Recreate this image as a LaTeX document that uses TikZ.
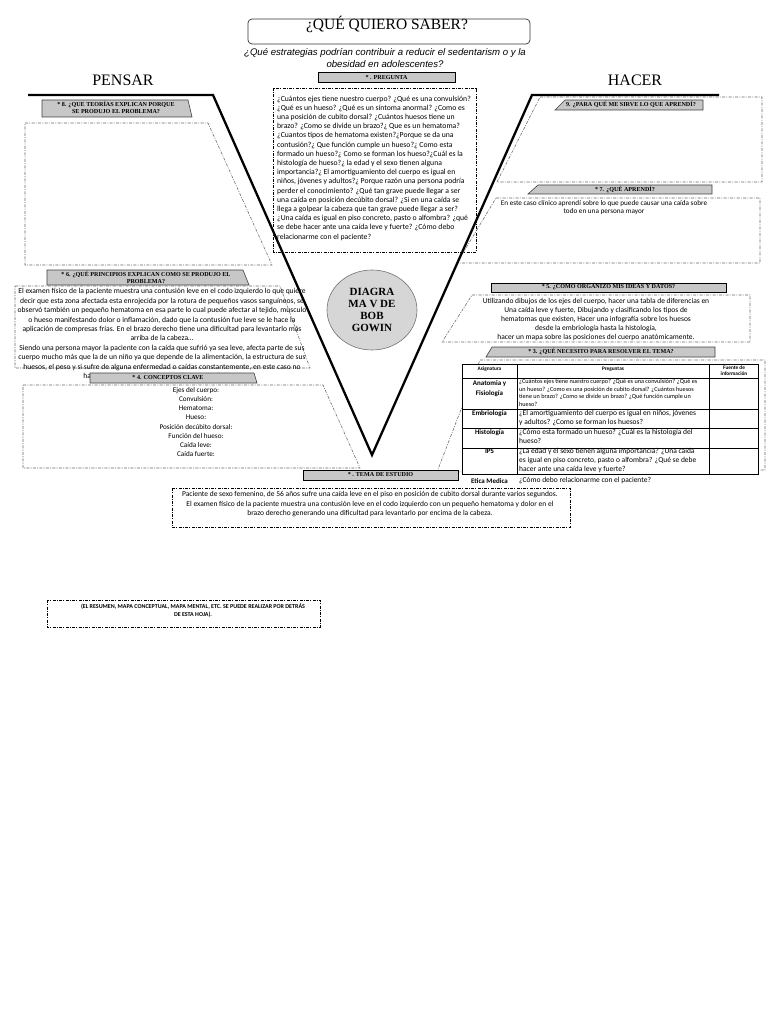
\documentclass[tikz,border=0pt]{standalone}
\usepackage{fontspec}
\setmainfont{Carlito}
\newfontfamily\tnr{Liberation Serif}
\newfontfamily\arl{Liberation Sans}
\newcommand\fz[2]{\fontsize{#1}{#2}\selectfont}
\tikzset{
 vl/.style={line width=2.3pt, line join=miter},
 dd/.style={draw=black!60, line width=0.55pt, dash pattern=on 3pt off 1.3pt on 0.9pt off 1.3pt},
 ddk/.style={draw=black, line width=0.9pt, dash pattern=on 3pt off 1.3pt on 0.9pt off 1.3pt},
 hdr/.style={fill=black!22, draw=black!75, line width=0.6pt},
 hdrk/.style={fill=black!22, draw=black, line width=1pt},
 ht/.style={font=\tnr\bfseries\fz{6.1}{6.4}, inner sep=0pt, align=center},
 bt/.style={font=\fz{7.3}{9.4}, inner sep=0pt, align=center},
 tb/.style={line width=0.9pt, draw=black},
 c1/.style={font=\bfseries\fz{7}{10}, inner sep=0pt, align=center},
}
\begin{document}
\begin{tikzpicture}[x=1pt,y=-1pt]
\useasboundingbox (0,0) rectangle (768,1024);
\fill[white] (0,0) rectangle (768,1024);

% title
\draw[rounded corners=4pt, line width=0.7pt, draw=black!80] (248,19) rectangle (530,44);
\node[inner sep=0pt, anchor=base, font=\tnr\fz{15.5}{16}] (title) at (387,29.5) {¿QUÉ QUIERO SABER?};
\node[inner sep=0pt, align=center, font=\arl\itshape\fz{9.6}{12}] (sub) at (385,58) {¿Qué estrategias podrían contribuir a reducir el sedentarism o y la\\obesidad en adolescentes?};
\node[inner sep=0pt, font=\tnr\fz{16}{16}] (pensar) at (123,80) {PENSAR};
\node[inner sep=0pt, font=\tnr\fz{16}{16}] (hacer) at (635,80) {HACER};

% PREGUNTA
\draw[hdrk] (318,73) rectangle (455,83);
\node[ht] (hpreg) at (386.5,78) {* . PREGUNTA};
\draw[ddk] (273,88) rectangle (476,252);
\node[anchor=north west, inner sep=0pt, align=left, font=\fz{7.7}{9.2}] (preg) at (277,95.5) {¿Cuántos ejes tiene nuestro cuerpo? ¿Qué es una convulsión?\\¿Qué es un hueso? ¿Qué es un síntoma anormal? ¿Como es\\una posición de cubito dorsal? ¿Cuántos huesos tiene un\\brazo? ¿Como se divide un brazo?¿ Que es un hematoma?\\¿Cuantos tipos de hematoma existen?¿Porque se da una\\contusión?¿ Que función cumple un hueso?¿ Como esta\\formado un hueso?¿ Como se forman los hueso?¿Cuál es la\\histología de hueso?¿ la edad y el sexo tienen alguna\\importancia?¿ El amortiguamiento del cuerpo es igual en\\niños, jóvenes y adultos?¿ Porque razón una persona podría\\perder el conocimiento? ¿Qué tan grave puede llegar a ser\\una caída en posición decúbito dorsal? ¿Si en una caída se\\llega a golpear la cabeza que tan grave puede llegar a ser?\\¿Una caída es igual en piso concreto, pasto o alfombra? ¿qué\\se debe hacer ante una caída leve y fuerte? ¿Cómo debo\\relacionarme con el paciente?};

% box 8
\draw[hdr] (42,100) -- (188,100) -- (192,117) -- (42,117) -- cycle;
\node[ht] (h8) at (116,107.5) {* 8. ¿QUE TEORÍAS EXPLICAN PORQUE\\SE PRODUJO EL PROBLEMA?};
\draw[dd] (25,123) -- (208,123) -- (272,265) -- (25,265) -- cycle;

% box 6
\draw[dd] (15,286) -- (280,286) -- (310,368) -- (15,368) -- cycle;
\node[bt, anchor=north, font=\fz{7.6}{9.4}] (t6) at (162,288.5) {El examen físico de la paciente muestra una contusión leve en el codo izquierdo lo que quiere\\decir que esta zona afectada esta enrojecida por la rotura de pequeños vasos sanguíneos, se\\observó también un pequeño hematoma en esa parte lo cual puede afectar al tejido, musculo\\o hueso manifestando dolor o inflamación, dado que la contusión fue leve se le hace la\\aplicación de compresas frías. En el brazo derecho tiene una dificultad para levantarlo más\\arriba de la cabeza…\\Siendo una persona mayor la paciente con la caída que sufrió ya sea leve, afecta parte de sus\\cuerpo mucho más que la de un niño ya que depende de la alimentación, la estructura de sus\\huesos, el peso y si sufre de alguna enfermedad o caídas constantemente, en este caso no\\hay que pasar por alto algunas de esas condiciones};
\draw[hdr] (47,270) -- (243,270) -- (249,285) -- (47,285) -- cycle;
\node[ht] (h6) at (146,277.5) {* 6. ¿QUÉ PRINCIPIOS EXPLICAN COMO SE PRODUJO EL\\PROBLEMA?};

% box 4
\draw[hdr] (90,373) -- (254,373) -- (257,383) -- (90,383) -- cycle;
\node[ht] (h4) at (168,378) {* 4. CONCEPTOS CLAVE};
\draw[dd] (23,385) -- (323,385) -- (360,468) -- (23,468) -- cycle;
\node[bt, anchor=north, font=\fz{7.2}{9.2}] (t4) at (196,387) {Ejes del cuerpo:\\Convulsión:\\Hematoma:\\Hueso:\\Posición decúbito dorsal:\\Función del hueso:\\Caída leve:\\Caída fuerte:};

% right side: box 9
\draw[dd] (540,97) -- (762,97) -- (762,182) -- (497,182) -- cycle;
\draw[hdr] (565,100) -- (703,100) -- (703,110) -- (555,110) -- cycle;
\node[ht] (h9) at (631,105) {9. ¿PARA QUÉ ME SIRVE LO QUE APRENDÍ?};

% box 7
\draw[hdr] (538,185) -- (712,185) -- (712,194) -- (528,194) -- cycle;
\node[ht] (h7) at (625,189.5) {* 7. ¿QUÉ APRENDÍ?};
\draw[dd] (496,198) -- (760,198) -- (760,263) -- (457,263) -- cycle;
\node[bt, anchor=north, font=\fz{7.2}{8.7}] (t7) at (604,200) {En este caso clínico aprendí sobre lo que puede causar una caída sobre\\todo en una persona mayor};

% box 5
\draw[hdrk] (491,283) rectangle (726,292);
\node[ht] (h5) at (608.5,287.5) {* 5. ¿COMO ORGANIZO MIS IDEAS Y DATOS?};
\draw[dd] (472,295) -- (750,295) -- (750,342) -- (442,342) -- cycle;
\node[bt, anchor=north, font=\fz{7.5}{9}] (t5) at (596,298) {Utilizando dibujos de los ejes del cuerpo, hacer una tabla de diferencias en\\Una caída leve y fuerte, Dibujando y clasificando los tipos de\\hematomas que existen, Hacer una infografía sobre los huesos\\desde la embriología hasta la histología,\\hacer un mapa sobre las posiciones del cuerpo anatómicamente.};

% box 3
\draw[hdr] (492,347) -- (715,347) -- (715,357) -- (486,357) -- cycle;
\node[ht] (h3) at (601,352) {* 3. ¿QUÉ NECESITO PARA RESOLVER EL TEMA?};
\draw[dd] (480,360) -- (765,360) -- (765,470) -- (437,472) -- cycle;

% table
\draw[tb, fill=white] (462,364) rectangle (758,474);
\foreach \yy in {378,409,428,448} \draw[tb] (462,\yy) -- (758,\yy);
\draw[tb] (517,364) -- (517,474);
\draw[tb] (709,364) -- (709,474);
\node[c1, font=\bfseries\fz{5.3}{6}] (ta) at (489.5,369.5) {Asignatura};
\node[c1, font=\bfseries\fz{5.3}{6}] (tp) at (613,369.5) {Preguntas};
\node[c1, font=\bfseries\fz{5.3}{6}] (tf) at (734,370.5) {Fuente de\\información};
\node[c1, anchor=north] (r1) at (489.5,380) {Anatomia y\\Fisiología};
\node[c1, anchor=north] (r2) at (489.5,410.5) {Embriología};
\node[c1, anchor=north] (r3) at (489.5,429.5) {Histología};
\node[c1, anchor=north] (r4) at (489.5,449) {IPS};
\node[c1, anchor=north] (r5) at (489.5,478) {Etica Medica};
\node[anchor=north west, inner sep=0pt, align=left, font=\fz{6.2}{7.6}] (q1) at (519,379) {¿Cuántos ejes tiene nuestro cuerpo? ¿Qué es una convulsión? ¿Qué es\\un hueso? ¿Como es una posición de cubito dorsal? ¿Cuántos huesos\\tiene un brazo? ¿Como se divide un brazo? ¿Qué función cumple un\\hueso?};
\node[anchor=north west, inner sep=0pt, align=left, font=\fz{7.5}{9}] (q2) at (519,410) {¿El amortiguamiento del cuerpo es igual en niños, jóvenes\\y adultos? ¿Como se forman los huesos?};
\node[anchor=north west, inner sep=0pt, align=left, font=\fz{7.5}{9}] (q3) at (519,429.5) {¿Cómo esta formado un hueso? ¿Cuál es la histología del\\hueso?};
\node[anchor=north west, inner sep=0pt, align=left, font=\fz{7.5}{9}] (q4) at (519,448.5) {¿La edad y el sexo tienen alguna importancia? ¿Una caída\\es igual en piso concreto, pasto o alfombra? ¿Qué se debe\\hacer ante una caída leve y fuerte?};
\node[anchor=north west, inner sep=0pt, align=left, font=\fz{7.5}{9}] (q5) at (519,477.5) {¿Cómo debo relacionarme con el paciente?};

% tema de estudio
\draw[hdrk] (303,470) rectangle (458,480);
\node[ht] (ht) at (380.5,475) {* . TEMA DE ESTUDIO};
\draw[ddk] (172,488) rectangle (570,527);
\node[bt, anchor=north, font=\fz{7.5}{9.6}] (tema) at (370,491) {Paciente de sexo femenino, de 56 años sufre una caída leve en el piso en posición de cubito dorsal durante varios segundos.\\El examen físico de la paciente muestra una contusión leve en el codo izquierdo con un pequeño hematoma y dolor en el\\brazo derecho generando una dificultad para levantarlo por encima de la cabeza.};

% bottom note
\draw[ddk, line width=0.7pt] (47,600) rectangle (320,627);
\node[bt, anchor=north, font=\bfseries\fz{6}{8.5}] (nota) at (193,603) {(EL RESUMEN, MAPA CONCEPTUAL, MAPA MENTAL, ETC. SE PUEDE REALIZAR POR DETRÁS\\DE ESTA HOJA).};

% V
\draw[vl] (28,95) -- (213,95) -- (372,455) -- (532,95) -- (719,95);

% ellipse
\draw[fill=black!16, draw=black!55, line width=0.6pt] (372,310) ellipse [x radius=45, y radius=40];
\node[inner sep=0pt, align=center, font=\tnr\bfseries\fz{11}{12}] (vg) at (372,310) {DIAGRA\\MA V DE\\BOB\\GOWIN};
\end{tikzpicture}
\end{document}
